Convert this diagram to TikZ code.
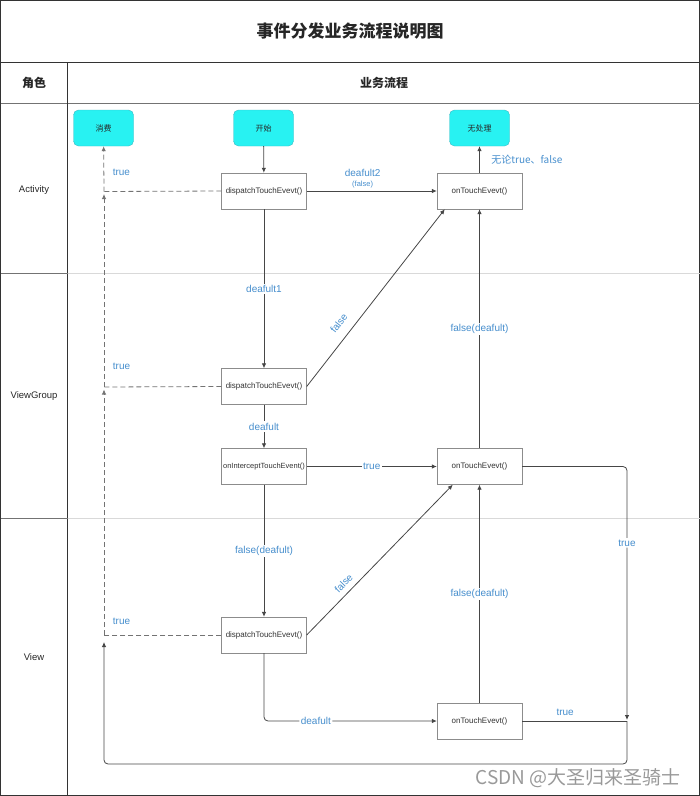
\documentclass[tikz,border=0pt]{standalone}
\usepackage{fontspec}
\setmainfont{Liberation Sans}
\newfontfamily\cjk{Noto Sans CJK SC}
\usetikzlibrary{arrows.meta}
\definecolor{termfill}{RGB}{40,242,242}
\definecolor{termdraw}{RGB}{60,185,195}
\definecolor{lblue}{RGB}{70,142,205}
\definecolor{lineg}{RGB}{70,70,70}
\begin{document}
\begin{tikzpicture}[x=1pt,y=-1pt,
  box/.style={draw=black!45, fill=white, minimum width=85pt, minimum height=36pt, inner sep=0pt, text=black!80, font=\fontsize{8}{10}\selectfont},
  term/.style={draw=termdraw, fill=termfill, rounded corners=5pt, minimum width=60pt, minimum height=36pt, inner sep=0pt, text=black!85, font=\cjk\fontsize{8}{10}\selectfont},
  conn/.style={draw=lineg, line width=0.8pt, -{Latex[length=5pt,width=4.5pt]}},
  plain/.style={draw=lineg, line width=0.8pt},
  dsh/.style={draw=black!55, line width=0.8pt, dash pattern=on 5pt off 3pt},
  dsharrow/.style={dsh, -{Latex[length=5pt,width=4.5pt]}},
  lbl/.style={text=lblue, font=\fontsize{10}{12}\selectfont, inner sep=1.5pt},
  lblw/.style={lbl, fill=white},
  role/.style={text=black!85, font=\fontsize{9.5}{11}\selectfont},
  frame/.style={draw=black!80, line width=1pt},
  lane/.style={draw=black!15, line width=0.8pt}
]
\useasboundingbox (0,0) rectangle (700,796);
% frame and table
\draw[frame] (0.5,0.5) rectangle (699.5,795.5);
\draw[frame] (0.5,62) -- (699.5,62);
\draw[draw=black!55, line width=0.8pt] (0.5,103) -- (699.5,103);
\draw[frame] (67.5,62) -- (67.5,795.5);
\draw[draw=black!55, line width=0.8pt] (0.5,273) -- (67.5,273) (0.5,518) -- (67.5,518);
\draw[lane] (67.5,273) -- (699.5,273) (67.5,518) -- (699.5,518);
\node[font=\cjk\bfseries\fontsize{17}{20}\selectfont, text=black!85] (title) at (350,31) {事件分发业务流程说明图};
\node[font=\cjk\bfseries\fontsize{12}{14}\selectfont, text=black!85] (hrole) at (34,83) {角色};
\node[font=\cjk\bfseries\fontsize{12}{14}\selectfont, text=black!85] (hflow) at (384,83) {业务流程};
\node[role] (ra) at (34,190) {Activity};
\node[role] (rvg) at (34,396) {ViewGroup};
\node[role] (rv) at (34,657) {View};
% nodes
\node[term] (xf) at (103.5,128) {消费};
\node[term] (start) at (263.5,128) {开始};
\node[term] (nop) at (479.5,128) {无处理};
\node[box] (d1) at (264,191) {dispatchTouchEvevt()};
\node[box] (ot1) at (479.5,191) {onTouchEvevt()};
\node[box] (d2) at (264,386.5) {dispatchTouchEvevt()};
\node[box] (oi) at (264,466.5) {\fontsize{7.5}{9}\selectfont onInterceptTouchEvent()};
\node[box] (ot2) at (479.5,466.5) {onTouchEvevt()};
\node[box] (d3) at (264,635) {dispatchTouchEvevt()};
\node[box] (ot3) at (479.5,721) {onTouchEvevt()};
% helper coordinates
\coordinate (c1) at (104,191.5);
\coordinate (c2) at (104,387);
\coordinate (c3) at (104,635);
\coordinate (c3b) at (104,642);
\coordinate (J) at (627,721);
\coordinate (bR) at (627,764);
\coordinate (bL) at (104,764);
% connectors
\draw[conn] (start) -- (d1);
\draw[conn] (d1) -- node[lbl, pos=0.43, above=3pt, align=center, inner sep=0pt] (l2) {deafult2\\[-2pt]{\fontsize{7.5}{9}\selectfont (false)}} (ot1);
\draw[dsh] (d1.west) -- (c1);
\draw[dsharrow] (c1) -- node[lbl, pos=0.42, right=7pt] (t1) {true} (xf);
\draw[dsh] (d2.west) -- (c2);
\draw[dsharrow, shorten >=2.5pt] (c2) -- node[lbl, pos=0.107, right=7pt] (t2) {true} (c1);
\draw[dsh] (d3.west) -- (c3);
\draw[dsharrow, shorten >=2.5pt] (c3) -- node[lbl, pos=0.056, right=7pt] (t3) {true} (c2);
\draw[conn] (d1) -- node[lblw, midway] (l1) {deafult1} (d2);
\draw[conn] (d2.east) -- node[lbl, pos=0.31, sloped, above=8pt] (lf1) {false} ([xshift=8pt]ot1.south west);
\draw[conn] (d2) -- node[lblw, midway] (l3) {deafult} (oi);
\draw[conn] (oi) -- node[lblw, midway] (l4) {true} (ot2);
\draw[conn] (ot2) -- node[lblw, midway] (l5) {false(deafult)} (ot1);
\draw[conn] (ot1) -- node[lbl, midway, right=10pt, font=\cjk\fontsize{10}{12}\selectfont] (l6) {无论true、false} (nop);
\draw[conn] (oi) -- node[lblw, midway] (l7) {false(deafult)} (d3);
\draw[conn] (d3.east) -- node[lbl, pos=0.30, sloped, above=4pt] (lf2) {false} ([xshift=16pt]ot2.south west);
\draw[conn, rounded corners=4pt] (d3.south) |- node[lblw, pos=0.65] (l8) {deafult} (ot3.west);
\draw[conn] (ot3) -- node[lblw, midway] (l9) {false(deafult)} (ot2);
\draw[conn, rounded corners=4pt, shorten >=1pt] (ot2.east) -| node[lblw, pos=0.65] (l10) {true} (J);
\draw[plain] (ot3.east) -- node[lbl, pos=0.41, above=4pt] (l11) {true} (J);
\draw[conn, rounded corners=4pt] (J) -- (bR) -- (bL) -- (c3b);
% watermark
\node[text=black!40, font=\cjk\fontsize{19}{22}\selectfont] (wm) at (578,778) {CSDN @大圣归来圣骑士};
\end{tikzpicture}
\end{document}
